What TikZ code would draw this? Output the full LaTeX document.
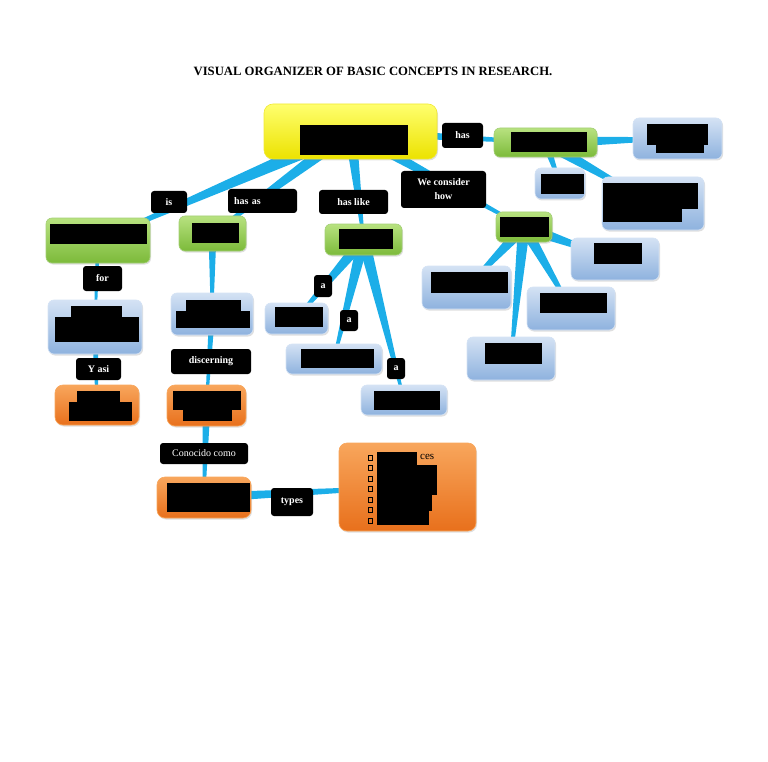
\documentclass[tikz,border=0pt]{standalone}
\usepackage{fontspec}
\setmainfont{Liberation Serif}
\usetikzlibrary{calc, backgrounds, shadows}

\definecolor{linkblue}{RGB}{28,174,232}
\definecolor{yeltop}{RGB}{255,255,110}
\definecolor{yelbot}{RGB}{236,226,0}
\definecolor{grntop}{RGB}{184,226,128}
\definecolor{grnbot}{RGB}{124,186,58}
\definecolor{blutop}{RGB}{212,226,244}
\definecolor{blubot}{RGB}{142,178,222}
\definecolor{orgtop}{RGB}{248,166,92}
\definecolor{orgbot}{RGB}{232,112,28}

% tapered branch, wide at the parent, thin at the child
\newcommand{\taper}[3]{\fill[linkblue] ($(#1.center)!#3!90:(#2.center)$) -- ($(#2.center)!1.2pt!-90:(#1.center)$) -- ($(#2.center)!1.2pt!90:(#1.center)$) -- ($(#1.center)!#3!-90:(#2.center)$) -- cycle;}

\begin{document}
\begin{tikzpicture}[x=1pt, y=-1pt,
  concept/.style={rounded corners=6pt, line width=0.6pt, inner sep=0pt, drop shadow={opacity=0.25, shadow xshift=1pt, shadow yshift=-1.5pt}},
  ybox/.style={concept, rounded corners=9pt, draw=yelbot!80!white, top color=yeltop, bottom color=yelbot},
  gbox/.style={concept, draw=grnbot!70!white, top color=grntop, bottom color=grnbot},
  bbox/.style={concept, draw=blutop, top color=blutop, bottom color=blubot},
  obox/.style={concept, rounded corners=8pt, draw=orgtop, top color=orgtop, bottom color=orgbot},
  lbl/.style={fill=black, rounded corners=3pt, text=white, inner sep=1pt, align=center, font=\bfseries\fontsize{10}{14}\selectfont},
  hidden/.style={fill=black}
]
\useasboundingbox (0,0) rectangle (768,762);

% --- Title ---
\node[font=\bfseries\fontsize{12.7}{14}\selectfont] (title) at (373,71) {VISUAL ORGANIZER OF BASIC CONCEPTS IN RESEARCH.};

% --- Main concept ---
\node[ybox, minimum width=173pt, minimum height=55pt] (root) at (350.5,131.5) {};

% --- First level ---
\node[gbox, minimum width=104pt, minimum height=45pt] (def) at (98,240.5) {};
\node[gbox, minimum width=67pt, minimum height=35pt] (elem) at (212.5,233.5) {};
\node[gbox, minimum width=77pt, minimum height=31pt] (kind) at (363.5,239.5) {};
\node[gbox, minimum width=56pt, minimum height=30pt] (step) at (524,227) {};
\node[gbox, minimum width=103pt, minimum height=29pt] (feat) at (545.5,142.5) {};

% --- Right branch ---
\node[bbox, minimum width=89pt, minimum height=41pt] (feat1) at (677.5,138.5) {};
\node[bbox, minimum width=50pt, minimum height=31pt] (feat2) at (560,183.5) {};
\node[bbox, minimum width=102pt, minimum height=53pt] (feat3) at (653,203.5) {};

% --- Steps ---
\node[bbox, minimum width=89pt, minimum height=43pt] (step1) at (466.5,287.5) {};
\node[bbox, minimum width=88pt, minimum height=42pt] (step2) at (615,259) {};
\node[bbox, minimum width=88pt, minimum height=43pt] (step3) at (571,308.5) {};
\node[bbox, minimum width=88pt, minimum height=43pt] (step4) at (511,358.5) {};

% --- Kinds ---
\node[bbox, minimum width=63pt, minimum height=31pt] (kind1) at (296.5,318.5) {};
\node[bbox, minimum width=96pt, minimum height=30pt] (kind2) at (334,359) {};
\node[bbox, minimum width=86pt, minimum height=30pt] (kind3) at (404,400) {};

% --- Left chains ---
\node[bbox, minimum width=94pt, minimum height=54pt] (aim) at (95,327) {};
\node[obox, minimum width=84pt, minimum height=40pt] (aimres) at (97,405) {};
\node[bbox, minimum width=82pt, minimum height=42pt] (var) at (212,314) {};
\node[obox, minimum width=79pt, minimum height=41pt] (varres) at (206.5,405.5) {};
\node[obox, minimum width=94pt, minimum height=41pt] (alias) at (204,497.5) {};
\node[obox, minimum width=137pt, minimum height=88pt] (types) at (407.5,487) {};

% --- Connectors ---
\begin{scope}[on background layer]
\taper{root}{def}{8pt}
\taper{root}{elem}{7pt}
\taper{root}{kind}{6pt}
\taper{root}{step}{6pt}
\taper{root}{feat}{5pt}
\taper{feat}{feat1}{6pt}
\taper{feat}{feat2}{4pt}
\taper{feat}{feat3}{6pt}
\taper{step}{step1}{6pt}
\taper{step}{step2}{6pt}
\taper{step}{step3}{6pt}
\taper{step}{step4}{6pt}
\taper{kind}{kind1}{6pt}
\taper{kind}{kind2}{6pt}
\taper{kind}{kind3}{6pt}
\taper{def}{aim}{2pt}
\taper{aim}{aimres}{3pt}
\taper{elem}{var}{4pt}
\taper{var}{varres}{3pt}
\taper{varres}{alias}{4pt}
\taper{alias}{types}{5pt}
\end{scope}

% --- Link labels ---
\node[lbl, minimum width=41pt, minimum height=25pt] (lhas) at (462.5,135.5) {has};
\node[lbl, minimum width=85pt, minimum height=37pt] (lconsider) at (443.5,189.5) {We consider\\how};
\node[lbl, minimum width=69pt, minimum height=24pt] (lhaslike) at (353.5,202) {has like};
\node[lbl, minimum width=36pt, minimum height=22pt] (lis) at (169,202) {is};
\node[lbl, minimum height=24pt, text width=57pt, inner xsep=6pt, align=left] (lhasas) at (262.5,201) {has as};
\node[lbl, minimum width=39pt, minimum height=25pt] (lfor) at (102.5,278.5) {for};
\node[lbl, minimum width=45pt, minimum height=22pt] (lyasi) at (98.5,369) {Y asi};
\node[lbl, minimum width=80pt, minimum height=25pt] (ldisc) at (211,361.5) {discerning};
\node[lbl, minimum width=88pt, minimum height=21pt, font=\fontsize{10}{11}\selectfont] (lknown) at (204,453.5) {Conocido como};
\node[lbl, minimum width=42pt, minimum height=28pt] (ltypes) at (292,502) {types};
\node[lbl, minimum width=18pt, minimum height=22pt] (la1) at (323,286) {a};
\node[lbl, minimum width=18pt, minimum height=21pt] (la2) at (349,320.5) {a};
\node[lbl, minimum width=18pt, minimum height=21pt] (la3) at (396,368.5) {a};

% --- List inside the types box ---
\node[anchor=west, inner sep=0pt, font=\fontsize{11}{12}\selectfont] (ces) at (420,457) {ces};
\foreach \y in {455,465.5,476,486.5,497,507.5,518}
  \draw[line width=0.6pt] (368,\y) rectangle (372,\y+5);

% --- Hidden texts ---
\fill[hidden] (300,125) rectangle (408,155);
\fill[hidden] (511,132) rectangle (587,152);
\fill[hidden] (647,124) rectangle (708,145);
\fill[hidden] (656,145) rectangle (704,153);
\fill[hidden] (541,174) rectangle (584,194);
\fill[hidden] (603,183) rectangle (698,209);
\fill[hidden] (603,209) rectangle (682,222);
\fill[hidden] (500,217) rectangle (549,237);
\fill[hidden] (431,272) rectangle (508,293);
\fill[hidden] (594,243) rectangle (642,264);
\fill[hidden] (540,293) rectangle (607,313);
\fill[hidden] (485,343) rectangle (542,364);
\fill[hidden] (50,224) rectangle (147,244);
\fill[hidden] (71,306) rectangle (122,317);
\fill[hidden] (55,317) rectangle (139,342);
\fill[hidden] (77,391) rectangle (120,402);
\fill[hidden] (69,402) rectangle (132,421);
\fill[hidden] (192,223) rectangle (239,243);
\fill[hidden] (186,300) rectangle (241,311);
\fill[hidden] (176,311) rectangle (250,328);
\fill[hidden] (173,391) rectangle (241,410);
\fill[hidden] (183,410) rectangle (232,421);
\fill[hidden] (339,229) rectangle (393,249);
\fill[hidden] (275,307) rectangle (323,327);
\fill[hidden] (301,349) rectangle (374,368);
\fill[hidden] (374,391) rectangle (440,410);
\fill[hidden] (167,483) rectangle (250,512);
\fill[hidden] (377,452) rectangle (417,465);
\fill[hidden] (377,465) rectangle (437,495);
\fill[hidden] (377,495) rectangle (432,511);
\fill[hidden] (377,511) rectangle (429,525);

\end{tikzpicture}
\end{document}
